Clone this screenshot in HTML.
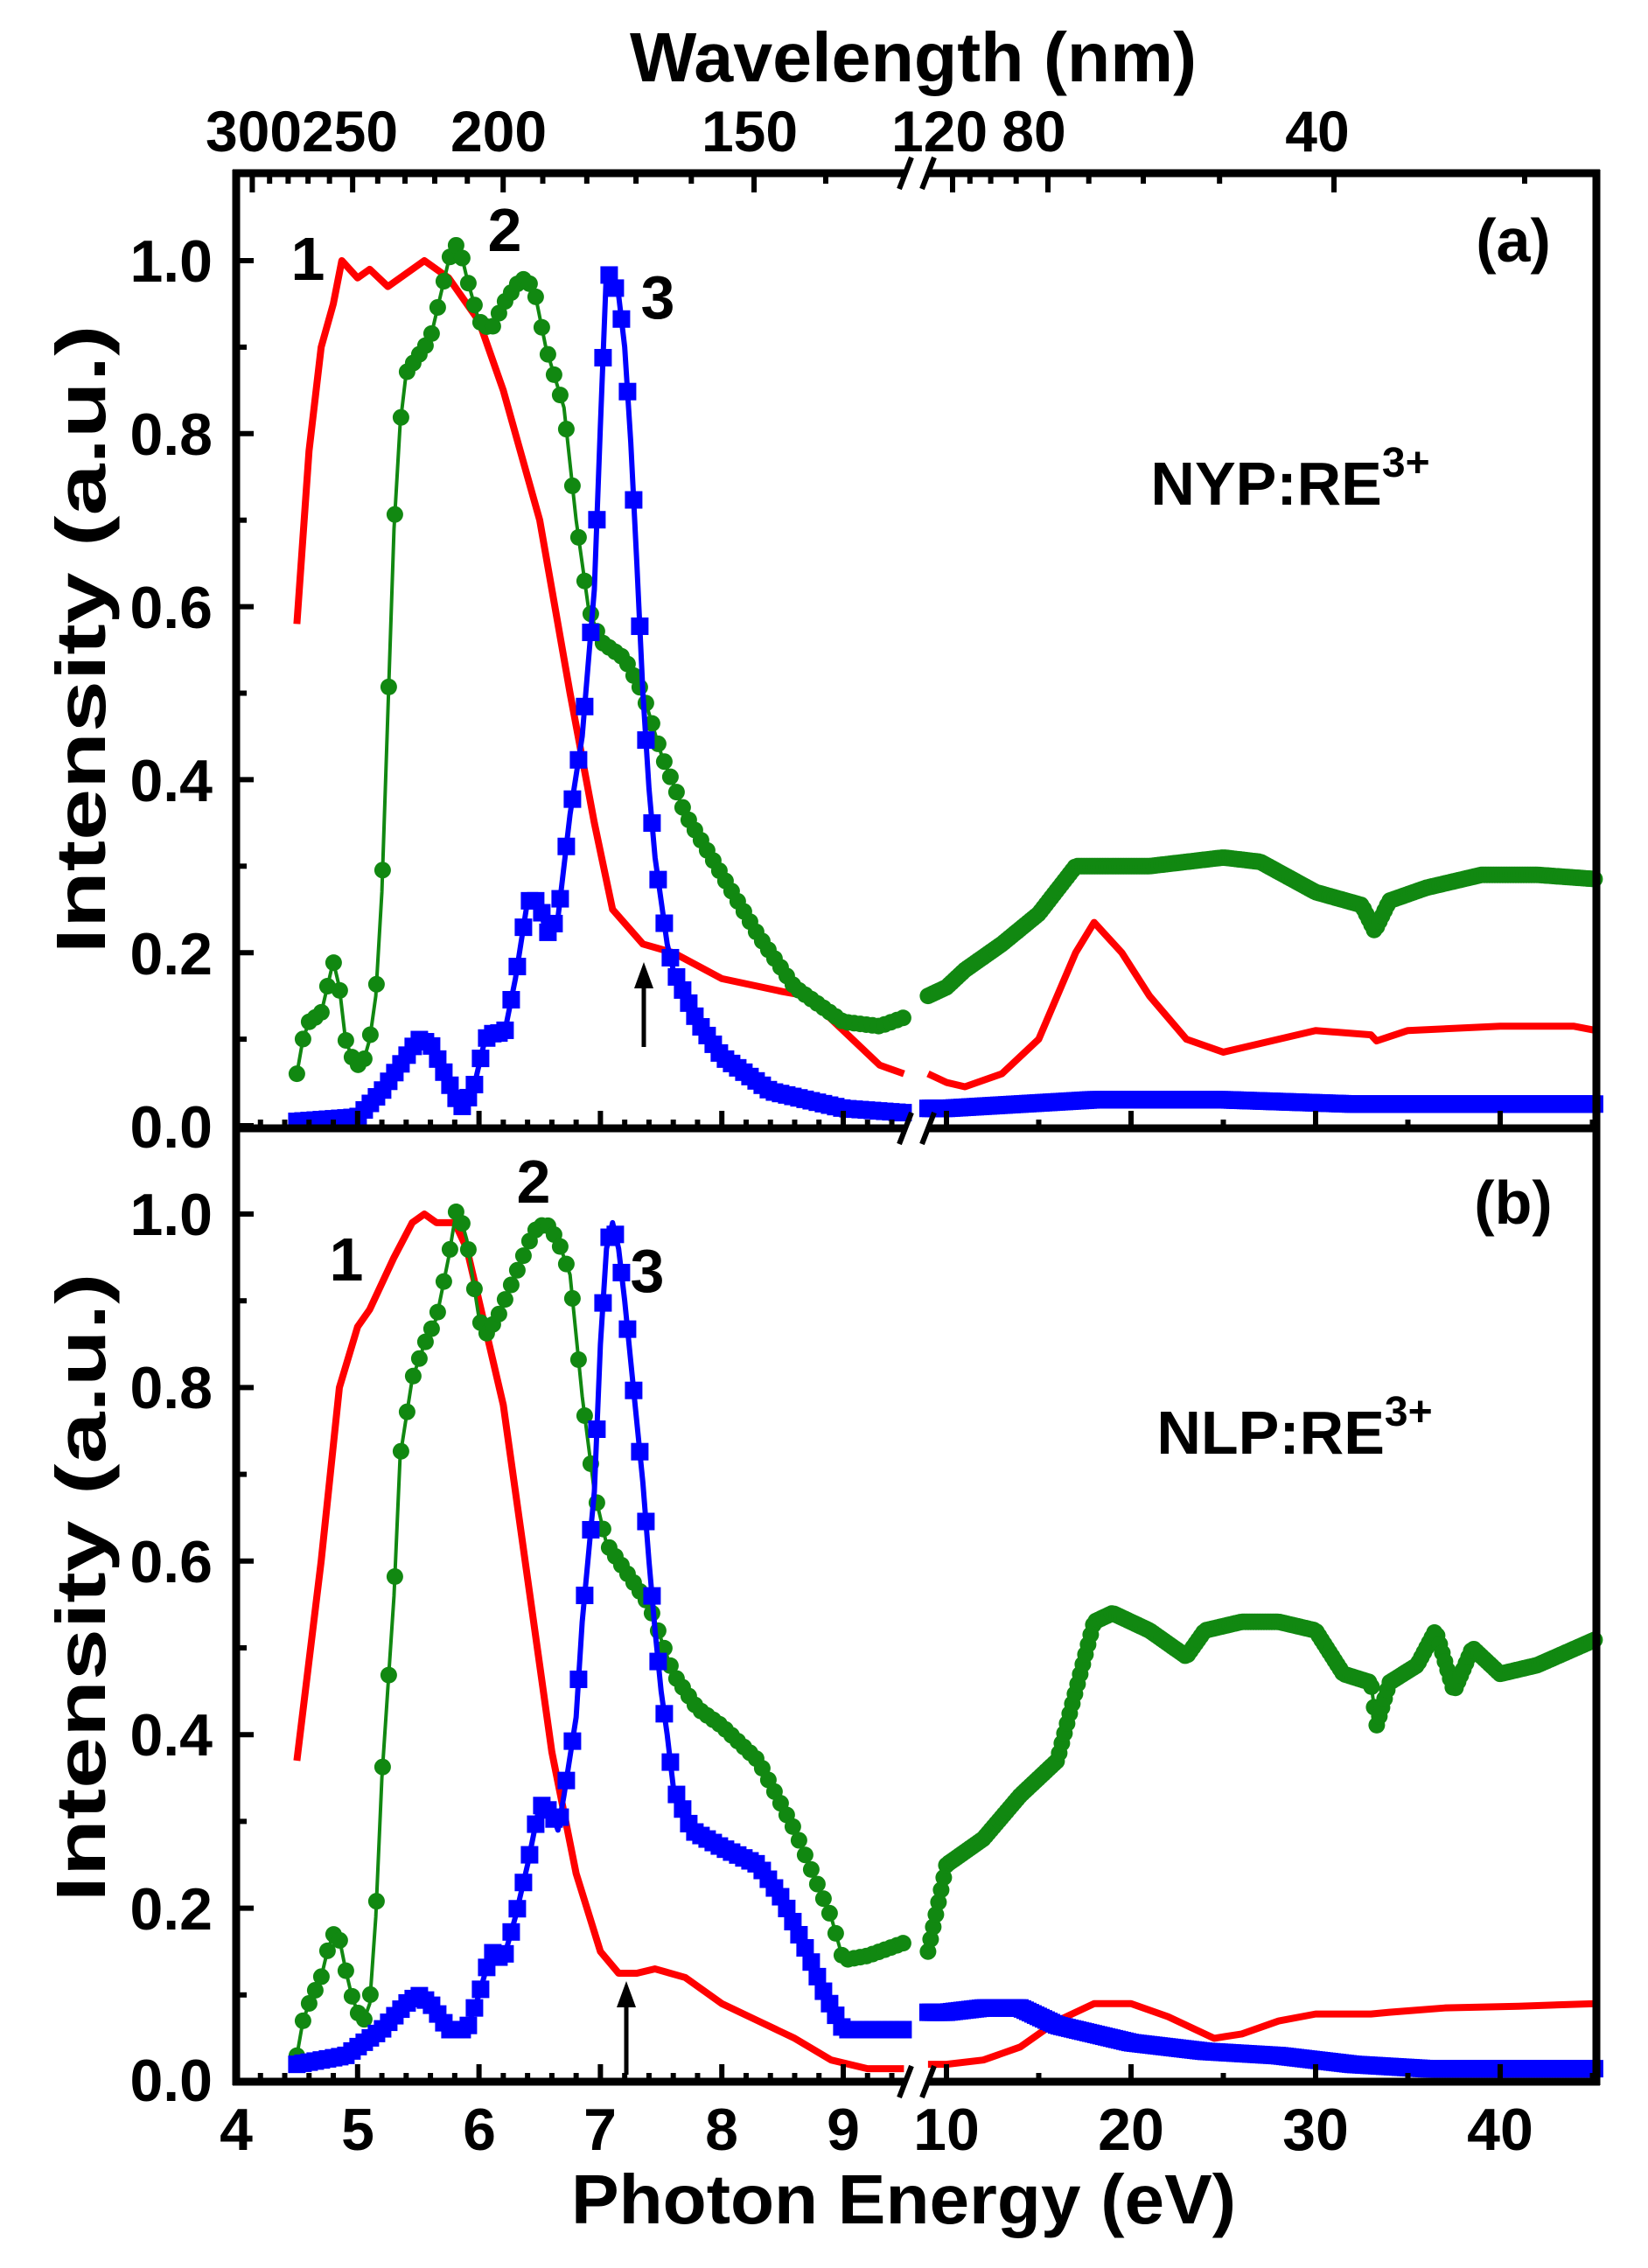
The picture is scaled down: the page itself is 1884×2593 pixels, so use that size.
<!DOCTYPE html>
<html><head><meta charset="utf-8"><style>
html,body{margin:0;padding:0;background:#fff;}
svg{display:block;}
text{font-family:"Liberation Sans",Arial,sans-serif;font-weight:bold;fill:#000;}
</style></head><body>
<svg id="s" width="1884" height="2593" viewBox="0 0 1884 2593" xmlns="http://www.w3.org/2000/svg">
<g id="data"></g>
<g id="axes" fill="none" stroke="#000"></g>
<text x="720" y="93" font-size="80" textLength="648" lengthAdjust="spacingAndGlyphs">Wavelength (nm)</text>
<text x="653" y="2542" font-size="80" textLength="760" lengthAdjust="spacingAndGlyphs">Photon Energy (eV)</text>
<text transform="translate(120,731) rotate(-90)" font-size="80" text-anchor="middle" textLength="719" lengthAdjust="spacingAndGlyphs">Intensity (a.u.)</text>
<text transform="translate(120,1815) rotate(-90)" font-size="80" text-anchor="middle" textLength="719" lengthAdjust="spacingAndGlyphs">Intensity (a.u.)</text>
<g font-size="66" text-anchor="middle">
<text x="290" y="173">300</text><text x="400" y="173">250</text><text x="570" y="173">200</text><text x="857" y="173">150</text><text x="1074" y="173">120</text><text x="1182" y="173">80</text><text x="1506" y="173">40</text>
</g>
<g font-size="68" text-anchor="end">
<text x="243" y="322">1.0</text><text x="243" y="520">0.8</text><text x="243" y="718">0.6</text><text x="243" y="916">0.4</text><text x="243" y="1114">0.2</text><text x="243" y="1312">0.0</text>
<text x="243" y="1412">1.0</text><text x="243" y="1610">0.8</text><text x="243" y="1809">0.6</text><text x="243" y="2007">0.4</text><text x="243" y="2206">0.2</text><text x="243" y="2402">0.0</text>
</g>
<g font-size="68" text-anchor="middle">
<text x="270" y="2458">4</text><text x="409" y="2458">5</text><text x="548" y="2458">6</text><text x="686" y="2458">7</text><text x="825" y="2458">8</text><text x="964" y="2458">9</text>
<text x="1082" y="2458">10</text><text x="1293" y="2458">20</text><text x="1504" y="2458">30</text><text x="1715" y="2458">40</text>
</g>
<g font-size="70" text-anchor="middle">
<text x="352" y="320">1</text><text x="577" y="287">2</text><text x="752" y="364">3</text>
<text x="1730" y="299">(a)</text>
<text x="396" y="1464">1</text><text x="610" y="1375">2</text><text x="740" y="1477">3</text>
<text x="1730" y="1399">(b)</text>
<text x="1475" y="577">NYP:RE<tspan font-size="48" dy="-32">3+</tspan></text>
<text x="1480" y="1662">NLP:RE<tspan font-size="48" dy="-32">3+</tspan></text>
</g>
<g stroke="#000" stroke-width="5" fill="#000">
<line x1="736" y1="1197" x2="736" y2="1125"/><polygon points="736,1100 725,1130 747,1130" stroke="none"/>
<line x1="716" y1="2372" x2="716" y2="2290"/><polygon points="716,2265 705,2295 727,2295" stroke="none"/>
</g>
</svg>
<script>
var NS="http://www.w3.org/2000/svg";
function X(e,seg){return seg==0?270+(e-4)*138.8:1082+(e-10)*21.1;}
var panels=[
{y0:1287,k:989,
red:[[[4.5,.58],[4.6,.78],[4.7,.9],[4.8,.95],[4.87,1.0],[5.0,.98],[5.1,.99],[5.25,.97],[5.45,.99],[5.55,1.0],[5.75,.98],[6.0,.93],[6.2,.85],[6.5,.7],[6.75,.5],[6.95,.35],[7.1,.25],[7.35,.21],[7.6,.2],[8.0,.17],[8.5,.155],[8.7,.15],[9.0,.11],[9.3,.07],[9.5,.06]],
 [[9,.06],[10,.05],[11,.045],[13,.06],[15,.1],[17,.2],[18,.235],[19.5,.2],[21,.15],[23,.1],[25,.085],[28,.1],[30,.11],[33,.105],[33.3,.098],[35,.11],[40,.115],[44,.115],[45.2,.11]]],
green:[[[4.5,.06],[4.55,.1],[4.6,.12],[4.7,.13],[4.75,.16],[4.8,.19],[4.85,.16],[4.9,.1],[4.95,.08],[5.0,.07],[5.05,.075],[5.1,.1],[5.15,.15],[5.2,.27],[5.25,.48],[5.3,.69],[5.35,.81],[5.4,.87],[5.5,.89],[5.6,.91],[5.7,.97],[5.75,1.0],[5.8,1.02],[5.85,1.01],[5.9,.98],[6.0,.93],[6.1,.92],[6.2,.95],[6.35,.98],[6.45,.97],[6.55,.9],[6.7,.83],[6.8,.7],[6.9,.6],[7.0,.56],[7.2,.54],[7.35,.5],[7.5,.43],[7.7,.36],[8.0,.29],[8.3,.22],[8.6,.16],[9.0,.12],[9.3,.115],[9.5,.125]],
 [[9,.15],[10,.16],[11,.18],[13,.21],[15,.245],[17,.3],[19,.3],[21,.3],[23,.305],[25,.31],[27,.305],[30,.27],[32.5,.255],[33.2,.225],[34,.26],[36,.275],[39,.29],[42,.29],[45.2,.285]]],
blue:[[[4.5,.005],[5.0,.01],[5.2,.04],[5.4,.08],[5.5,.1],[5.6,.095],[5.75,.05],[5.85,.02],[5.95,.04],[6.05,.1],[6.15,.11],[6.2,.1],[6.3,.17],[6.4,.26],[6.5,.26],[6.55,.22],[6.65,.24],[6.75,.36],[6.85,.45],[6.95,.62],[7.0,.81],[7.05,.99],[7.15,.96],[7.2,.9],[7.25,.79],[7.3,.65],[7.35,.5],[7.4,.39],[7.45,.31],[7.5,.26],[7.55,.21],[7.6,.18],[7.8,.12],[8.0,.08],[8.4,.04],[9.0,.02],[9.5,.015]],
 [[9,.02],[10,.02],[18,.03],[25,.03],[32,.025],[45.2,.025]]]},
{y0:2380,k:992,
red:[[[4.5,.37],[4.7,.6],[4.85,.8],[5.0,.87],[5.1,.89],[5.3,.95],[5.45,.99],[5.55,1.0],[5.65,.99],[5.8,.99],[5.9,.96],[6.0,.9],[6.2,.78],[6.4,.58],[6.6,.38],[6.8,.24],[7.0,.15],[7.15,.125],[7.3,.125],[7.45,.13],[7.7,.12],[8.0,.09],[8.3,.07],[8.6,.05],[8.9,.025],[9.2,.015],[9.5,.015]],
 [[9,.02],[10,.02],[12,.025],[14,.04],[16,.07],[18,.09],[20,.09],[22,.075],[24.5,.05],[26,.055],[28,.07],[30,.078],[33,.078],[34,.08],[37,.085],[41,.087],[45.2,.09]]],
green:[[[4.5,.03],[4.55,.07],[4.6,.09],[4.7,.12],[4.75,.15],[4.8,.17],[4.85,.165],[4.9,.13],[4.95,.1],[5.0,.08],[5.05,.07],[5.1,.09],[5.15,.19],[5.2,.35],[5.3,.56],[5.35,.72],[5.45,.81],[5.55,.85],[5.65,.88],[5.75,.95],[5.82,1.01],[5.9,.97],[6.0,.88],[6.05,.86],[6.15,.88],[6.3,.93],[6.45,.98],[6.55,.99],[6.65,.97],[6.75,.93],[6.85,.79],[6.95,.68],[7.05,.62],[7.2,.59],[7.4,.55],[7.6,.47],[7.8,.43],[8.0,.41],[8.3,.37],[8.6,.29],[8.9,.19],[9.0,.14],[9.2,.145],[9.5,.16]],
 [[9,.15],[10,.25],[12,.28],[14,.33],[16,.37],[17,.45],[18,.53],[19,.54],[21,.52],[23,.49],[24,.52],[26,.53],[28,.53],[30,.52],[31.5,.47],[33,.46],[33.3,.41],[34,.46],[35.5,.48],[36.5,.52],[37.5,.45],[38.5,.5],[40,.47],[42,.48],[45.2,.51]]],
blue:[[[4.5,.02],[4.9,.03],[5.2,.06],[5.4,.09],[5.5,.1],[5.6,.09],[5.75,.06],[5.9,.06],[6.0,.1],[6.1,.15],[6.2,.14],[6.3,.19],[6.4,.25],[6.5,.32],[6.6,.31],[6.65,.29],[6.7,.33],[6.8,.42],[6.85,.53],[6.95,.68],[7.0,.85],[7.05,.96],[7.1,.99],[7.15,.96],[7.2,.9],[7.25,.83],[7.3,.76],[7.35,.69],[7.4,.6],[7.45,.52],[7.5,.45],[7.55,.4],[7.6,.34],[7.75,.29],[8.0,.27],[8.3,.25],[8.5,.21],[8.7,.15],[8.85,.1],[9.0,.06],[9.5,.06]],
 [[9,.08],[10,.08],[12,.085],[14,.085],[16,.065],[20,.045],[24,.035],[28,.03],[32,.02],[36,.015],[45.2,.015]]]}
];
var g=document.getElementById("data");
function el(n,a){var e=document.createElementNS(NS,n);for(var k in a)e.setAttribute(k,a[k]);g.appendChild(e);return e;}
function pts(p,seg,arr){return arr.map(function(q){return [X(q[0],seg),p.y0-q[1]*p.k];});}
function line(P,color,w){el("polyline",{points:P.map(function(q){return q.join(",")}).join(" "),fill:"none",stroke:color,"stroke-width":w,"stroke-linejoin":"round"});}
function interp(P,x){for(var i=1;i<P.length;i++){if(x<=P[i][0]){var a=P[i-1],b=P[i],f=(x-a[0])/(b[0]-a[0]||1);return a[1]+(b[1]-a[1])*f;}}return P[P.length-1][1];}
function markers(P,step,fn){for(var x=P[0][0];x<=P[P.length-1][0];x+=step)fn(x,interp(P,x));}
panels.forEach(function(p){
 [0,1].forEach(function(seg){
  var R=pts(p,seg,p.red[seg]);line(R,"#ff0000",8);
  var G=pts(p,seg,p.green[seg]);line(G,"#118811",4);
  markers(G,seg==0?7:3,function(x,y){el("circle",{cx:x,cy:y,r:9.5,fill:"#118811"});});
  var B=pts(p,seg,p.blue[seg]);line(B,"#0000ff",6);
  markers(B,seg==0?7:3,function(x,y){el("rect",{x:x-10,y:y-10,width:20,height:20,fill:"#0000ff"});});
 });
});
var ax=document.getElementById("axes");
function L(x1,y1,x2,y2,w){var e=document.createElementNS(NS,"line");e.setAttribute("x1",x1);e.setAttribute("y1",y1);e.setAttribute("x2",x2);e.setAttribute("y2",y2);e.setAttribute("stroke-width",w||9);ax.appendChild(e);}
var gx1=1036,gx2=1060;
[198,1290,2380].forEach(function(y){L(266,y,gx1,y);L(gx2,y,1829,y);});
L(270,194,270,2384);L(1825,194,1825,2384);
[198,1290,2380].forEach(function(y){L(gx1-8,y+18,gx1+6,y-18,6);L(gx2-6,y+18,gx2+8,y-18,6);});
[[1287,989],[2380,992]].forEach(function(a){for(var i=0;i<=10;i++){var y=a[0]-i*a[1]/10;L(270,y,i%2==0?290:282,y,6);}});
[1290,2380].forEach(function(y){
 for(var i=0;i<=27;i++){var e=4+i*0.2;var x=X(e,0);if(x>1030)break;var maj=(i%5==0);L(x,y,x,y-(maj?20:10),6);}
 for(var e=10;e<=45;e+=5){var x=X(e,1);L(x,y,x,y-(e%10==0?20:10),6);}
});
for(var w=300;w>=130;w-=10){var e=1239.8/w;var x=X(e,0);if(x<272||x>1030)continue;L(x,198,x,198+((w%50==0)?22:12),6);}
[120,80,40].forEach(function(w){var x=X(1239.8/w,1);L(x,198,x,220,6);});
for(var w=110;w>=30;w-=10){if(w==80||w==40)continue;var x=X(1239.8/w,1);if(x>1820)continue;L(x,198,x,210,6);}
</script>
</body></html>
